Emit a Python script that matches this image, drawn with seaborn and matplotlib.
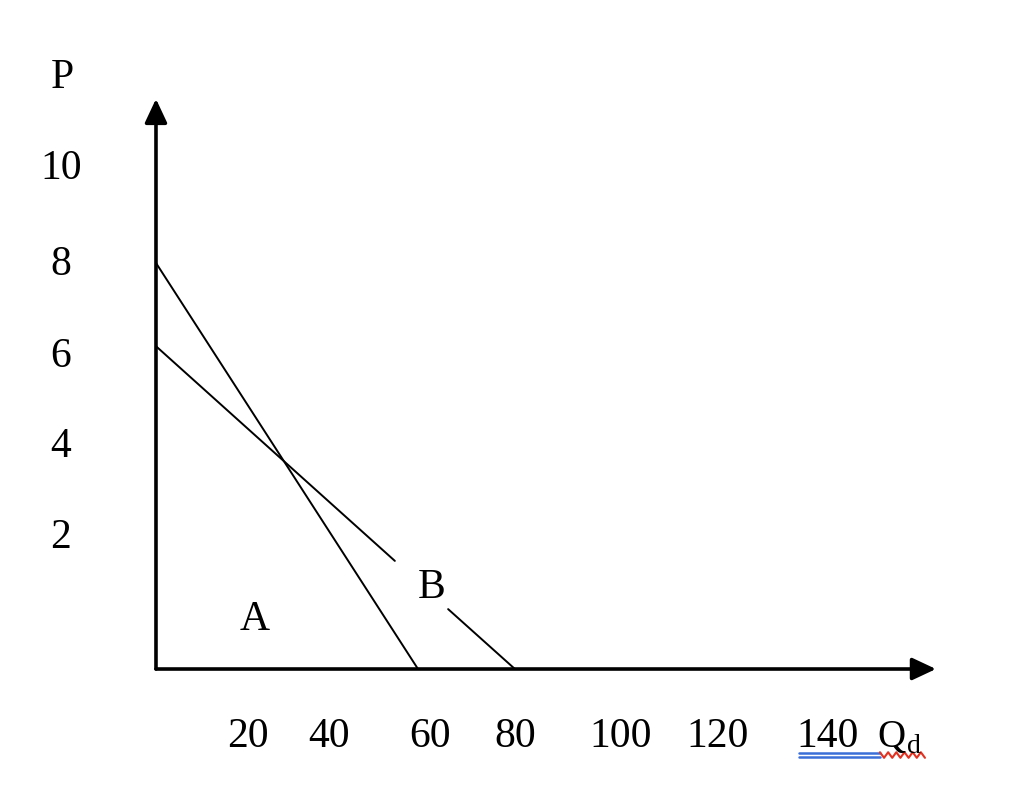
import numpy as np
import pandas as pd
import matplotlib
matplotlib.use("Agg")
import matplotlib.pyplot as plt
import seaborn as sns
from matplotlib.patches import FancyArrowPatch

# demand curves (Q, P)
a_q = [0, 60]
a_p = [8.0, 0.0]
# curve B is broken around its label
b1_q = [0, 54.7]
b1_p = [6.36, 2.13]
b2_q = [66.9, 82.2]
b2_p = [1.18, 0.0]

# tick labels as they sit on the drawing
x_labels = ["20", "40", "60", "80", "100", "120", "140"]
x_label_pos = [21.1, 39.6, 62.7, 82.2, 106.3, 128.7, 153.9]
y_labels = ["10", "8", "6", "4", "2"]
y_label_pos = [9.85, 7.96, 6.15, 4.37, 2.58]

df = pd.concat([
    pd.DataFrame({"Q": a_q, "P": a_p, "curve": "A"}),
    pd.DataFrame({"Q": b1_q, "P": b1_p, "curve": "B1"}),
    pd.DataFrame({"Q": b2_q, "P": b2_p, "curve": "B2"}),
])

sns.set_style("white")
plt.rcParams["font.family"] = ["Liberation Serif", "DejaVu Serif"]
plt.rcParams["text.color"] = "black"

fig = plt.figure(figsize=(10.18, 8.02), dpi=100)
ax = fig.add_axes([0, 0, 1, 1])
ax.set_xlim(-35.72, 197.4)
ax.set_ylim(-2.62, 13.18)
ax.axis("off")

sns.lineplot(data=df, x="Q", y="P", units="curve", estimator=None,
             color="black", linewidth=1.4, ax=ax, sort=False)

# axes with arrow heads
x_end = (936 - 156) / 4.367
y_end = (669 - 99) / 50.75
for end in [(x_end, 0), (0, y_end)]:
    ax.add_patch(FancyArrowPatch((0, 0), end,
                                 arrowstyle="-|>,head_length=14.5,head_width=6.8",
                                 mutation_scale=1, shrinkA=0, shrinkB=0,
                                 color="black", linewidth=2.6))

fs = 30
for lab, pos in zip(x_labels, x_label_pos):
    ax.text(pos, -1.34, lab, ha="center", va="center", fontsize=fs, color="black")
for lab, pos in zip(y_labels, y_label_pos):
    ax.text(-21.8, pos, lab, ha="center", va="center", fontsize=fs, color="black")

ax.text(-21.5, 11.64, "P", ha="center", va="center", fontsize=fs, color="black")
ax.text(168.5, -1.34, "Q", ha="center", va="center", fontsize=28, color="black")
ax.text(173.6, -1.66, "d", ha="center", va="baseline", fontsize=20, color="black")
ax.text(22.7, 0.97, "A", ha="center", va="center", fontsize=fs, color="black")
ax.text(63.2, 1.6, "B", ha="center", va="center", fontsize=fs, color="black")

# word-processor style marks under "140 Qd"
ux0 = (799 - 156) / 4.367
ux1 = (880 - 156) / 4.367
for uy in [(669 - 753) / 50.75, (669 - 757) / 50.75]:
    ax.plot([ux0, ux1], [uy, uy], color="#3a6fd8", linewidth=1.8)
wx = np.linspace(ux1, (925 - 156) / 4.367, 12)
wy = (669 - 755) / 50.75 + np.where(np.arange(12) % 2 == 0, 0.055, -0.055)
ax.plot(wx, wy, color="#e3301f", linewidth=1.5)

fig.savefig("out.png", dpi=100, facecolor="white")
